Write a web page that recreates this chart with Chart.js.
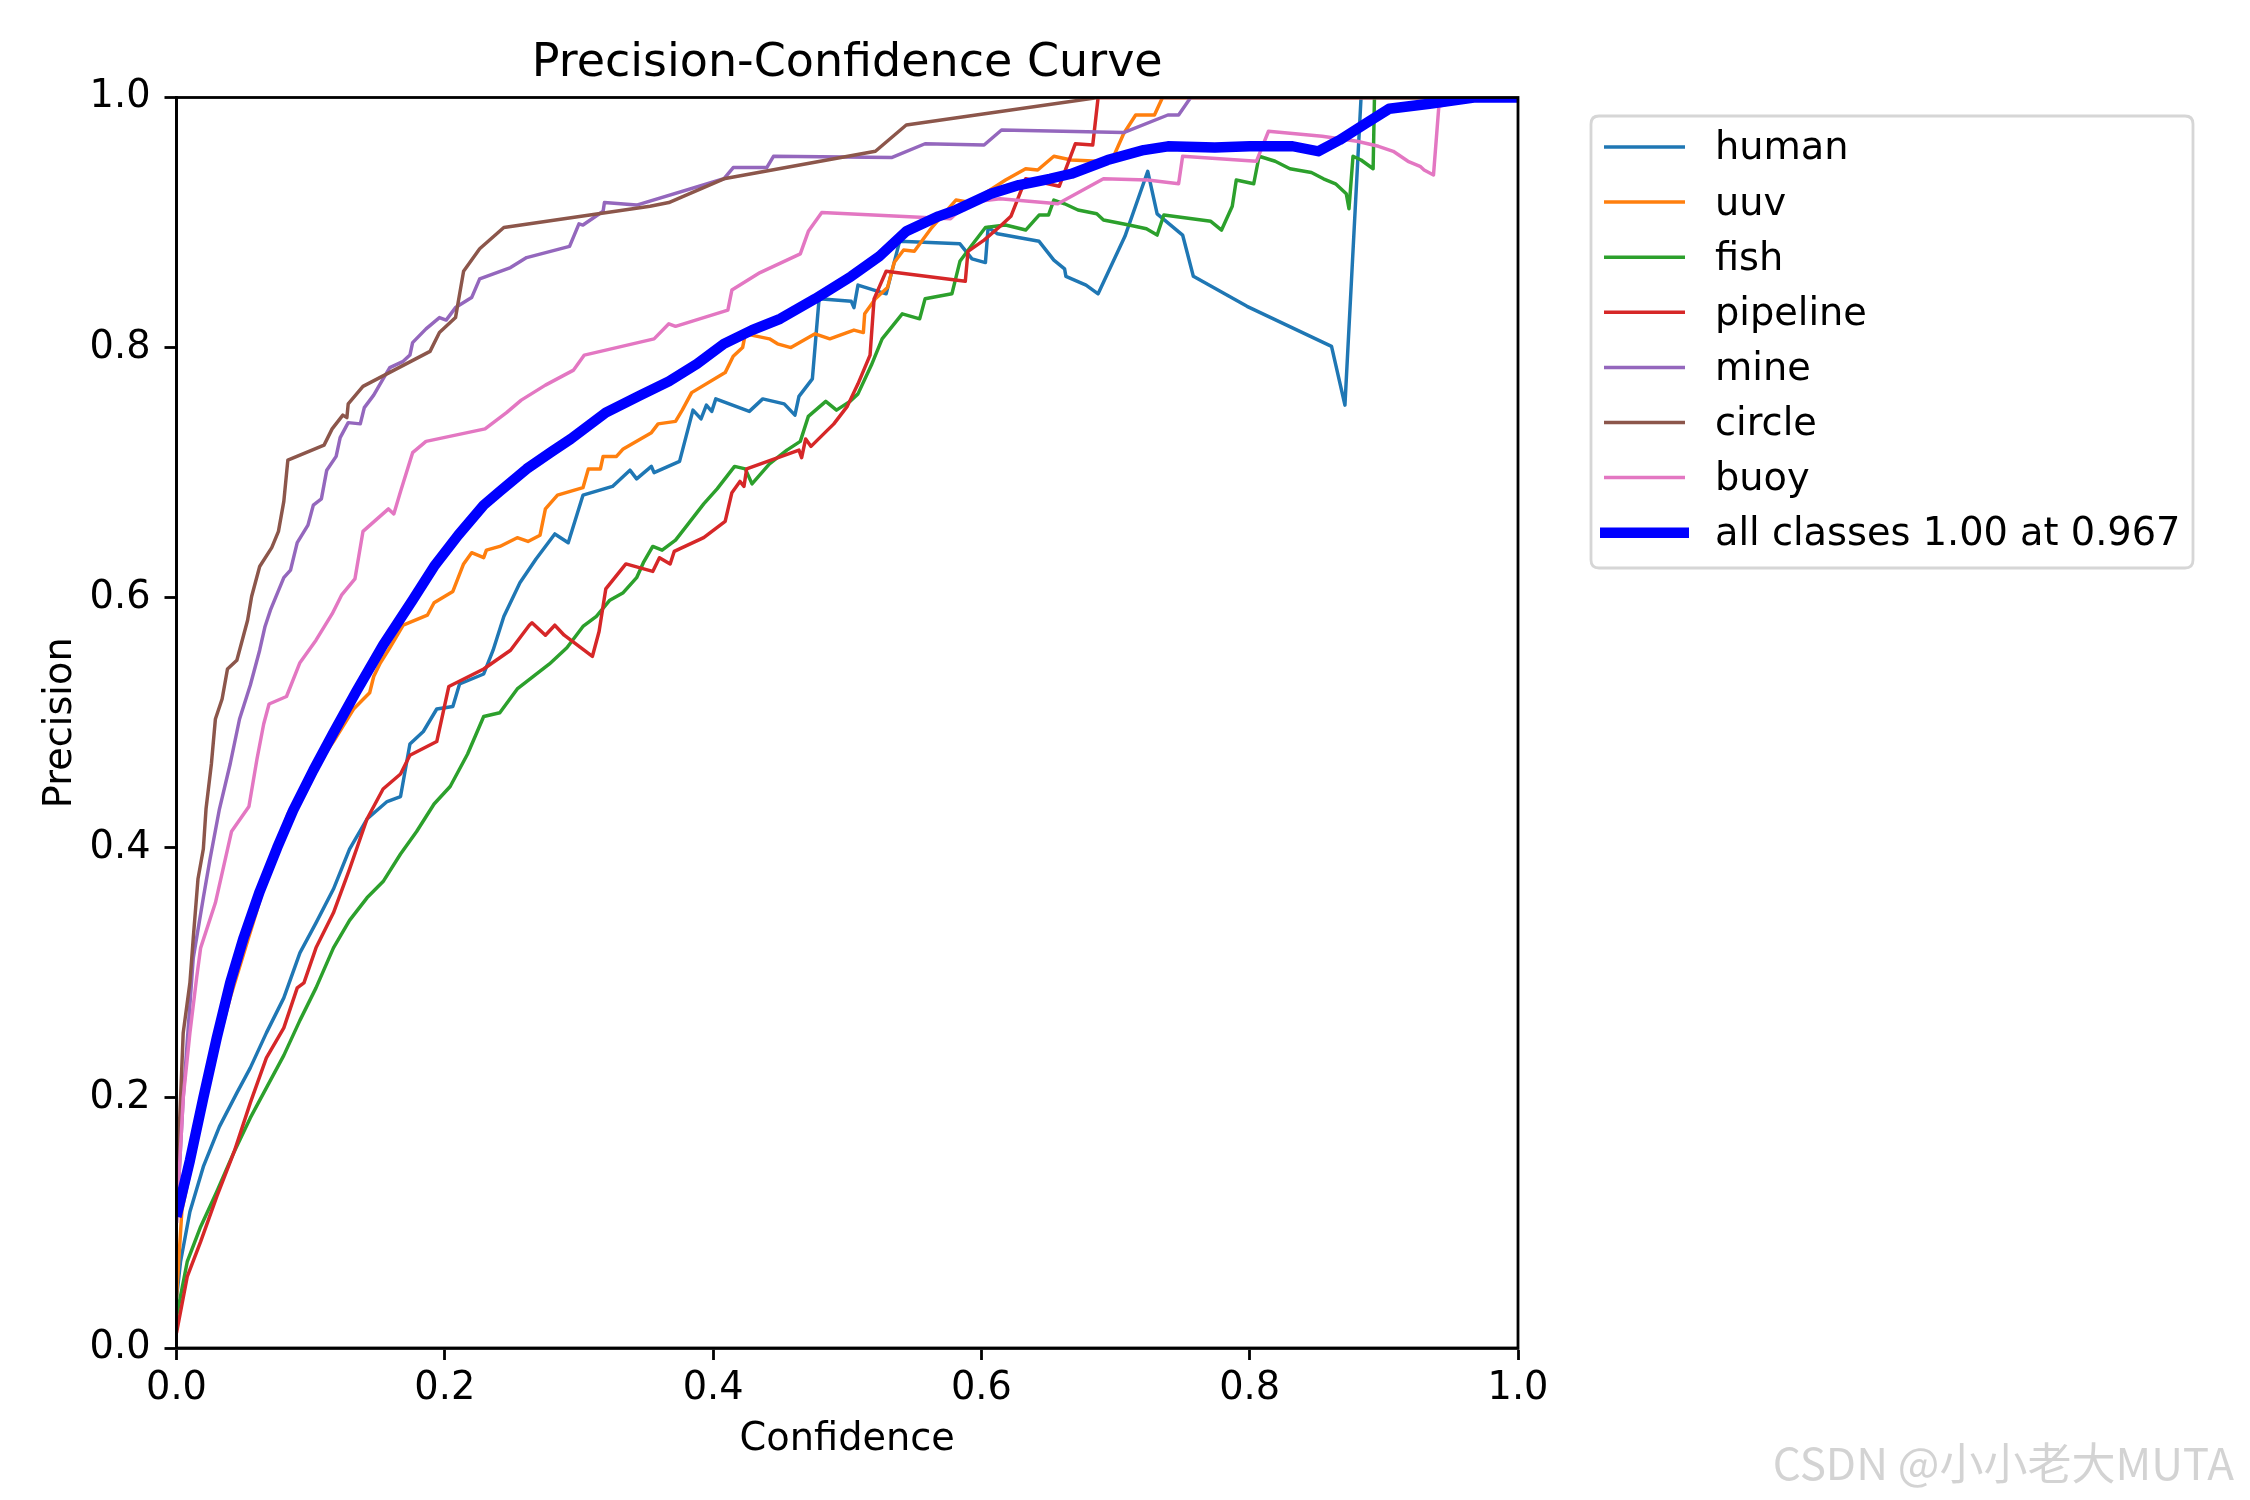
<!DOCTYPE html>
<html>
<head>
<meta charset="utf-8">
<title>Precision-Confidence Curve</title>
<script src="https://cdn.jsdelivr.net/npm/chart.js@4.4.0/dist/chart.umd.min.js"></script>
<style>
  html, body { margin: 0; padding: 0; background: #fff; }
  #wrap { width: 2250px; height: 1500px; }
</style>
</head>
<body>
<div id="wrap"><canvas id="pcChart" width="2250" height="1500"></canvas></div>
<script>
// [confidence, precision] pairs
var human = [[0,0.04],[0.003,0.069],[0.010,0.109],[0.020,0.145],[0.032,0.177],[0.045,0.204],[0.055,0.224],[0.067,0.252],[0.080,0.280],[0.092,0.316],[0.104,0.340],[0.117,0.367],[0.129,0.399],[0.142,0.423],[0.157,0.437],[0.167,0.441],[0.174,0.483],[0.184,0.493],[0.194,0.511],[0.206,0.513],[0.211,0.531],[0.229,0.539],[0.236,0.558],[0.244,0.585],[0.256,0.612],[0.268,0.631],[0.282,0.651],[0.292,0.644],[0.303,0.682],[0.325,0.689],[0.338,0.702],[0.343,0.695],[0.354,0.705],[0.356,0.700],[0.375,0.709],[0.385,0.750],[0.391,0.743],[0.395,0.754],[0.399,0.749],[0.402,0.759],[0.427,0.749],[0.437,0.759],[0.453,0.755],[0.461,0.746],[0.464,0.761],[0.474,0.775],[0.479,0.839],[0.503,0.837],[0.505,0.832],[0.508,0.850],[0.529,0.843],[0.539,0.885],[0.584,0.883],[0.593,0.871],[0.603,0.868],[0.605,0.896],[0.612,0.891],[0.643,0.885],[0.654,0.870],[0.662,0.863],[0.663,0.857],[0.678,0.850],[0.687,0.843],[0.707,0.889],[0.724,0.941],[0.731,0.907],[0.750,0.890],[0.758,0.857],[0.798,0.833],[0.861,0.801],[0.871,0.754],[0.883,1.0],[1.0,1.0]];
var uuv = [[0,0.04],[0.004,0.11],[0.01,0.14],[0.02,0.19],[0.03,0.24],[0.04,0.28],[0.05,0.315],[0.06,0.35],[0.070,0.387],[0.083,0.427],[0.095,0.451],[0.104,0.465],[0.117,0.485],[0.132,0.511],[0.144,0.524],[0.147,0.537],[0.152,0.548],[0.159,0.560],[0.169,0.578],[0.187,0.586],[0.192,0.596],[0.206,0.605],[0.214,0.627],[0.220,0.636],[0.229,0.632],[0.231,0.638],[0.241,0.641],[0.254,0.648],[0.262,0.645],[0.271,0.650],[0.275,0.671],[0.284,0.682],[0.303,0.688],[0.307,0.703],[0.316,0.703],[0.318,0.713],[0.328,0.713],[0.333,0.719],[0.354,0.732],[0.359,0.739],[0.372,0.741],[0.377,0.750],[0.384,0.764],[0.409,0.780],[0.415,0.793],[0.422,0.800],[0.424,0.811],[0.442,0.807],[0.448,0.803],[0.458,0.800],[0.476,0.811],[0.487,0.807],[0.505,0.814],[0.512,0.812],[0.513,0.827],[0.521,0.839],[0.530,0.848],[0.535,0.868],[0.542,0.878],[0.550,0.877],[0.563,0.896],[0.581,0.918],[0.592,0.916],[0.618,0.934],[0.633,0.943],[0.642,0.942],[0.654,0.953],[0.667,0.950],[0.687,0.949],[0.699,0.954],[0.706,0.971],[0.715,0.986],[0.729,0.986],[0.735,1.0],[1.0,1.0]];
var fish = [[0,0.025],[0.008,0.069],[0.018,0.097],[0.030,0.125],[0.043,0.157],[0.055,0.184],[0.067,0.208],[0.080,0.234],[0.092,0.262],[0.104,0.288],[0.117,0.320],[0.129,0.342],[0.142,0.360],[0.154,0.373],[0.167,0.395],[0.179,0.413],[0.192,0.435],[0.204,0.449],[0.217,0.475],[0.229,0.505],[0.241,0.508],[0.254,0.527],[0.266,0.537],[0.278,0.547],[0.291,0.560],[0.303,0.577],[0.313,0.585],[0.323,0.598],[0.333,0.604],[0.343,0.616],[0.348,0.628],[0.355,0.641],[0.362,0.638],[0.372,0.646],[0.380,0.657],[0.393,0.675],[0.403,0.687],[0.416,0.705],[0.424,0.703],[0.429,0.691],[0.442,0.707],[0.455,0.718],[0.465,0.725],[0.471,0.745],[0.484,0.757],[0.492,0.750],[0.502,0.757],[0.508,0.763],[0.518,0.786],[0.526,0.807],[0.541,0.827],[0.554,0.823],[0.558,0.839],[0.578,0.843],[0.584,0.869],[0.593,0.882],[0.603,0.896],[0.618,0.898],[0.633,0.894],[0.643,0.906],[0.650,0.906],[0.654,0.918],[0.662,0.915],[0.672,0.910],[0.686,0.907],[0.691,0.902],[0.710,0.898],[0.723,0.895],[0.731,0.890],[0.736,0.906],[0.771,0.901],[0.779,0.894],[0.787,0.913],[0.790,0.934],[0.803,0.931],[0.807,0.953],[0.819,0.949],[0.830,0.943],[0.846,0.940],[0.855,0.935],[0.864,0.931],[0.872,0.923],[0.874,0.911],[0.877,0.953],[0.883,0.950],[0.892,0.943],[0.893,1.0],[1.0,1.0]];
var pipeline = [[0,0.012],[0.008,0.057],[0.018,0.085],[0.030,0.121],[0.043,0.157],[0.055,0.196],[0.067,0.232],[0.080,0.256],[0.090,0.288],[0.095,0.292],[0.104,0.320],[0.117,0.348],[0.129,0.383],[0.142,0.423],[0.154,0.447],[0.167,0.459],[0.174,0.474],[0.194,0.485],[0.203,0.529],[0.229,0.543],[0.249,0.558],[0.263,0.578],[0.265,0.580],[0.275,0.570],[0.282,0.578],[0.289,0.570],[0.310,0.553],[0.315,0.573],[0.320,0.607],[0.335,0.627],[0.355,0.621],[0.360,0.632],[0.368,0.627],[0.371,0.637],[0.393,0.648],[0.409,0.661],[0.414,0.684],[0.420,0.693],[0.423,0.689],[0.425,0.703],[0.464,0.718],[0.466,0.712],[0.469,0.727],[0.473,0.721],[0.490,0.739],[0.500,0.753],[0.508,0.771],[0.517,0.794],[0.520,0.839],[0.529,0.861],[0.588,0.853],[0.590,0.877],[0.602,0.886],[0.614,0.897],[0.622,0.905],[0.633,0.935],[0.658,0.929],[0.670,0.963],[0.683,0.962],[0.687,1.0],[1.0,1.0]];
var mine = [[0,0.10],[0.005,0.2],[0.0125,0.312],[0.020,0.360],[0.025,0.391],[0.032,0.431],[0.040,0.467],[0.047,0.503],[0.055,0.530],[0.062,0.558],[0.066,0.577],[0.070,0.590],[0.080,0.616],[0.085,0.622],[0.090,0.644],[0.098,0.658],[0.102,0.674],[0.108,0.679],[0.112,0.702],[0.119,0.713],[0.122,0.728],[0.128,0.740],[0.137,0.739],[0.140,0.752],[0.147,0.762],[0.154,0.775],[0.159,0.784],[0.169,0.789],[0.174,0.794],[0.176,0.804],[0.186,0.815],[0.196,0.824],[0.201,0.822],[0.208,0.832],[0.220,0.840],[0.226,0.855],[0.249,0.864],[0.261,0.872],[0.293,0.881],[0.300,0.899],[0.303,0.898],[0.318,0.909],[0.319,0.916],[0.343,0.914],[0.408,0.935],[0.415,0.944],[0.440,0.944],[0.445,0.953],[0.533,0.952],[0.558,0.963],[0.602,0.962],[0.615,0.974],[0.706,0.972],[0.739,0.986],[0.747,0.986],[0.756,1.0],[1.0,1.0]];
var circle = [[0,0.12],[0.005,0.252],[0.010,0.292],[0.0125,0.328],[0.016,0.375],[0.020,0.399],[0.022,0.431],[0.026,0.467],[0.029,0.503],[0.034,0.519],[0.038,0.543],[0.045,0.550],[0.050,0.570],[0.053,0.582],[0.056,0.601],[0.062,0.625],[0.071,0.640],[0.076,0.653],[0.080,0.677],[0.083,0.710],[0.110,0.722],[0.116,0.735],[0.124,0.746],[0.127,0.744],[0.128,0.755],[0.139,0.769],[0.189,0.797],[0.196,0.812],[0.208,0.824],[0.214,0.861],[0.226,0.879],[0.244,0.896],[0.353,0.913],[0.367,0.916],[0.408,0.935],[0.521,0.957],[0.544,0.978],[0.687,1.0],[1.0,1.0]];
var buoy = [[0,0.10],[0.005,0.2],[0.010,0.252],[0.015,0.296],[0.018,0.320],[0.029,0.356],[0.041,0.413],[0.054,0.433],[0.060,0.471],[0.065,0.499],[0.069,0.515],[0.082,0.521],[0.092,0.548],[0.104,0.566],[0.116,0.587],[0.123,0.602],[0.133,0.615],[0.139,0.653],[0.158,0.671],[0.162,0.667],[0.167,0.685],[0.176,0.716],[0.186,0.725],[0.230,0.735],[0.246,0.748],[0.257,0.758],[0.275,0.770],[0.296,0.782],[0.304,0.794],[0.356,0.807],[0.367,0.819],[0.372,0.817],[0.411,0.830],[0.414,0.846],[0.435,0.860],[0.465,0.875],[0.471,0.893],[0.481,0.908],[0.577,0.903],[0.590,0.916],[0.614,0.919],[0.657,0.915],[0.691,0.935],[0.724,0.934],[0.747,0.931],[0.750,0.953],[0.805,0.949],[0.814,0.973],[0.854,0.969],[0.880,0.965],[0.896,0.961],[0.907,0.957],[0.918,0.949],[0.927,0.945],[0.930,0.942],[0.937,0.938],[0.941,0.993],[0.966,1.0],[1.0,1.0]];
var allClasses = [[0,0.105],[0.010,0.15],[0.020,0.20],[0.030,0.248],[0.040,0.292],[0.050,0.328],[0.062,0.365],[0.075,0.40],[0.087,0.43],[0.102,0.462],[0.117,0.492],[0.134,0.525],[0.154,0.562],[0.176,0.598],[0.192,0.625],[0.210,0.650],[0.229,0.674],[0.241,0.685],[0.261,0.703],[0.280,0.717],[0.294,0.727],[0.320,0.748],[0.346,0.762],[0.367,0.773],[0.388,0.787],[0.408,0.803],[0.429,0.814],[0.450,0.823],[0.476,0.839],[0.503,0.857],[0.524,0.873],[0.544,0.893],[0.568,0.905],[0.581,0.910],[0.607,0.923],[0.628,0.930],[0.651,0.935],[0.667,0.939],[0.694,0.950],[0.721,0.958],[0.739,0.961],[0.774,0.960],[0.800,0.961],[0.832,0.961],[0.851,0.957],[0.867,0.966],[0.886,0.979],[0.904,0.991],[0.934,0.995],[0.967,1.0],[1.0,1.0]];

var seriesLabels = ['human', 'uuv', 'fish', 'pipeline', 'mine', 'circle', 'buoy', 'all classes 1.00 at 0.967'];
var seriesData = [human, uuv, fish, pipeline, mine, circle, buoy, allClasses];
var seriesColors = ['#1f77b4', '#ff7f0e', '#2ca02c', '#d62728', '#9467bd', '#8c564b', '#e377c2', '#0000ff'];
var axisTicks = [0, 0.2, 0.4, 0.6, 0.8, 1.0];

var FONT = 'DejaVu Sans';
var TXT = 38.3;   // 10pt text
var TTL = 46;     // 12pt title

function toPoints(arr) {
  return arr.map(function (d) { return { x: d[0], y: d[1] }; });
}

var datasets = seriesData.map(function (arr, i) {
  var isAll = (i == seriesData.length - 1);
  return {
    label: seriesLabels[i],
    data: toPoints(arr),
    borderColor: seriesColors[i],
    backgroundColor: seriesColors[i],
    borderWidth: isAll ? 10.4 : 3.47,
    borderJoinStyle: 'round',
    pointRadius: 0,
    tension: 0,
    fill: false,
    clip: 0,
    // matplotlib draws later lines on top
    order: seriesData.length - i
  };
});

// axes box (all four spines) + legend frame + watermark
var framePlugin = {
  id: 'framePlugin',
  afterDatasetsDraw: function (chart) {
    var a = chart.chartArea, ctx = chart.ctx;
    ctx.save();
    ctx.strokeStyle = '#000';
    ctx.lineWidth = 2.8;
    ctx.strokeRect(a.left, a.top, a.right - a.left, a.bottom - a.top);
    ctx.restore();
  },
  afterDraw: function (chart) {
    var ctx = chart.ctx;
    var sets = chart.data.datasets;
    var x0 = 1591, y0 = 116, w = 602, h = 452, r = 8;
    ctx.save();
    ctx.beginPath();
    ctx.moveTo(x0 + r, y0);
    ctx.lineTo(x0 + w - r, y0);
    ctx.quadraticCurveTo(x0 + w, y0, x0 + w, y0 + r);
    ctx.lineTo(x0 + w, y0 + h - r);
    ctx.quadraticCurveTo(x0 + w, y0 + h, x0 + w - r, y0 + h);
    ctx.lineTo(x0 + r, y0 + h);
    ctx.quadraticCurveTo(x0, y0 + h, x0, y0 + h - r);
    ctx.lineTo(x0, y0 + r);
    ctx.quadraticCurveTo(x0, y0, x0 + r, y0);
    ctx.closePath();
    ctx.fillStyle = 'rgba(255,255,255,0.8)';
    ctx.fill();
    ctx.lineWidth = 2.8;
    ctx.strokeStyle = '#d6d6d6';
    ctx.stroke();

    ctx.font = TXT + 'px "' + FONT + '"';
    ctx.textBaseline = 'middle';
    ctx.textAlign = 'left';
    for (var i = 0; i < sets.length; i++) {
      var yy = 147 + i * 55.1;
      ctx.beginPath();
      ctx.lineCap = 'butt';
      ctx.strokeStyle = sets[i].borderColor;
      ctx.lineWidth = sets[i].borderWidth;
      var ext = sets[i].borderWidth > 5 ? 4 : 0;
      ctx.moveTo(1604 - ext, yy);
      ctx.lineTo(1685 + ext, yy);
      ctx.stroke();
      ctx.fillStyle = '#000';
      ctx.fillText(sets[i].label, 1715, yy + 2.5);
    }

    // watermark
    ctx.font = '44px "Noto Sans CJK SC"';
    ctx.textAlign = 'right';
    ctx.fillStyle = 'rgba(175,175,175,0.55)';
    ctx.fillText('CSDN @小小老大MUTA', 2234, 1463);
    ctx.restore();
  }
};

function tickFmt(v) { return Number(v).toFixed(1); }

var ctx = document.getElementById('pcChart').getContext('2d');
var chart = new Chart(ctx, {
  type: 'line',
  data: { datasets: datasets },
  plugins: [framePlugin],
  options: {
    responsive: false,
    animation: false,
    devicePixelRatio: 1,
    events: [],
    layout: { padding: { left: 0, right: 732, top: 0, bottom: 0 } },
    plugins: {
      legend: { display: false },
      tooltip: { enabled: false },
      title: {
        display: true,
        fullSize: false,
        text: 'Precision-Confidence Curve',
        color: '#000',
        font: { family: FONT, size: TTL, weight: 'normal', lineHeight: 1.2 },
        padding: { top: 36, bottom: 6.3 }
      }
    },
    scales: {
      x: {
        type: 'linear',
        min: 0,
        max: 1,
        afterFit: function (s) { s.height = 152; },
        afterBuildTicks: function (s) { s.ticks = axisTicks.map(function (v) { return { value: v }; }); },
        ticks: {
          callback: tickFmt,
          color: '#000',
          padding: 6,
          maxRotation: 0,
          font: { family: FONT, size: TXT }
        },
        grid: { display: true, drawOnChartArea: false, drawTicks: true, tickLength: 12, tickWidth: 2.8, tickColor: '#000' },
        border: { display: true, color: '#000', width: 2.8 },
        title: {
          display: true,
          text: 'Confidence',
          color: '#000',
          font: { family: FONT, size: TXT, lineHeight: 1.2 },
          padding: { top: 0, bottom: 36.5 }
        }
      },
      y: {
        type: 'linear',
        min: 0,
        max: 1,
        afterFit: function (s) { s.width = 176.5; },
        afterBuildTicks: function (s) { s.ticks = axisTicks.map(function (v) { return { value: v }; }); },
        ticks: {
          callback: tickFmt,
          color: '#000',
          padding: 14,
          font: { family: FONT, size: TXT }
        },
        grid: { display: true, drawOnChartArea: false, drawTicks: true, tickLength: 12, tickWidth: 2.8, tickColor: '#000' },
        border: { display: true, color: '#000', width: 2.8 },
        title: {
          display: true,
          text: 'Precision',
          color: '#000',
          font: { family: FONT, size: TXT, lineHeight: 1.2 },
          padding: { top: 38, bottom: 0 }
        }
      }
    }
  }
});
</script>
</body>
</html>
